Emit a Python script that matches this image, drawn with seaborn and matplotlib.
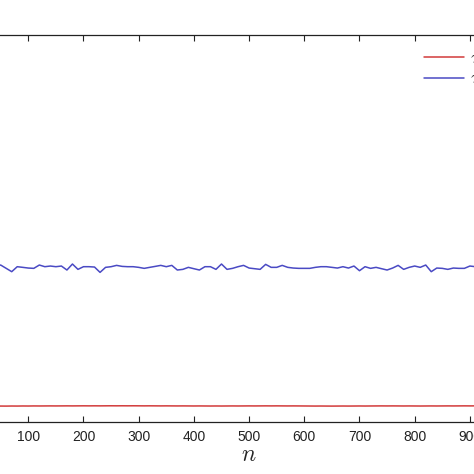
import numpy as np
import pandas as pd
import matplotlib
matplotlib.use('Agg')
import matplotlib.pyplot as plt
import seaborn as sns

# sample index n (step 10)
n_values = list(range(0, 1001, 10))

# blue series
tau2_values = [
    0.4009, 0.4026, 0.3992, 0.4017, 0.4026, 0.4052, 0.3966, 0.3880, 0.4009, 0.3992,
    0.3974, 0.3966, 0.4052, 0.4009, 0.4026, 0.4009, 0.4026, 0.3923, 0.4078, 0.3940,
    0.4009, 0.4009, 0.4000, 0.3862, 0.3992, 0.4009, 0.4043, 0.4017, 0.4009, 0.4009,
    0.3992, 0.3966, 0.3992, 0.4017, 0.4043, 0.4009, 0.4043, 0.3923, 0.3940, 0.3992,
    0.3957, 0.3923, 0.4009, 0.4009, 0.3940, 0.4078, 0.3940, 0.3966, 0.4009, 0.4043,
    0.3974, 0.3957, 0.3940, 0.4069, 0.3992, 0.3992, 0.4043, 0.3992, 0.3974, 0.3966,
    0.3966, 0.3966, 0.3992, 0.4009, 0.4009, 0.3992, 0.3974, 0.4009, 0.3974, 0.4026,
    0.3905, 0.4009, 0.3966, 0.3992, 0.3957, 0.3923, 0.3974, 0.4043, 0.3940, 0.3992,
    0.4026, 0.3992, 0.4052, 0.3880, 0.3974, 0.3966, 0.3940, 0.3974, 0.3966, 0.3966,
    0.4026, 0.4009, 0.3992, 0.4017, 0.3974, 0.4009, 0.4026, 0.3966, 0.4009, 0.3992,
    0.4009,
]

# red series (nearly flat)
tau1_values = [
    0.0402, 0.0403, 0.0402, 0.0404, 0.0403, 0.0405, 0.0404, 0.0406, 0.0405, 0.0407,
    0.0406, 0.0408, 0.0407, 0.0408, 0.0409, 0.0408, 0.0409, 0.0410, 0.0409, 0.0410,
    0.0411, 0.0410, 0.0411, 0.0410, 0.0411, 0.0412, 0.0411, 0.0412, 0.0411, 0.0412,
    0.0411, 0.0410, 0.0411, 0.0410, 0.0409, 0.0410, 0.0409, 0.0408, 0.0409, 0.0408,
    0.0407, 0.0408, 0.0407, 0.0406, 0.0407, 0.0406, 0.0407, 0.0408, 0.0407, 0.0408,
    0.0409, 0.0408, 0.0409, 0.0410, 0.0409, 0.0410, 0.0409, 0.0408, 0.0409, 0.0408,
    0.0407, 0.0406, 0.0405, 0.0406, 0.0405, 0.0404, 0.0405, 0.0406, 0.0405, 0.0406,
    0.0407, 0.0406, 0.0407, 0.0408, 0.0409, 0.0408, 0.0409, 0.0408, 0.0407, 0.0408,
    0.0407, 0.0406, 0.0407, 0.0408, 0.0407, 0.0408, 0.0409, 0.0408, 0.0409, 0.0410,
    0.0409, 0.0410, 0.0409, 0.0408, 0.0409, 0.0408, 0.0407, 0.0408, 0.0407, 0.0408,
    0.0407,
]

series_labels = [r'$\tau_1$', r'$\tau_2$']
series_colors = ['#d23a3a', '#4a4ac4']
x_ticks = list(range(0, 1001, 100))

df = pd.DataFrame({
    'n': n_values * 2,
    'value': tau1_values + tau2_values,
    'series': [series_labels[0]] * len(n_values) + [series_labels[1]] * len(n_values),
})

sns.set_style('ticks')
plt.rcParams['font.family'] = ['Liberation Sans', 'DejaVu Sans']
plt.rcParams['mathtext.fontset'] = 'cm'

fig = plt.figure(figsize=(4.74, 4.74), dpi=100)
# the picture is a crop: the axes run past the left and right edges
ax = fig.add_axes([-0.0568, 0.1103, 1.1646, 0.8158])

sns.lineplot(data=df, x='n', y='value', hue='series', palette=series_colors,
             linewidth=1.1, ax=ax, legend=False)

ax.set_xlim(0, 1000)
ax.set_ylim(0, 1)
ax.set_xticks(x_ticks)
ax.set_yticks(np.linspace(0, 1, 6))
ax.tick_params(direction='in', length=4.5, width=0.8, top=True, right=True,
               labelsize=10, pad=6, colors='#222222')
for s in ax.spines.values():
    s.set_linewidth(0.9)
    s.set_color('#222222')
ax.set_xlabel(r'$n$', fontsize=17, labelpad=0)
ax.set_ylabel('')

handles = [plt.Line2D([], [], color=c, linewidth=1.1) for c in series_colors]
fig.legend(handles, series_labels, loc='upper left',
           bbox_to_anchor=(0.8945, 0.892), bbox_transform=fig.transFigure,
           frameon=False, fontsize=12, handlelength=2.4, handletextpad=0.36,
           labelspacing=0.2, borderpad=0, borderaxespad=0)

fig.savefig('out.png', dpi=100)
